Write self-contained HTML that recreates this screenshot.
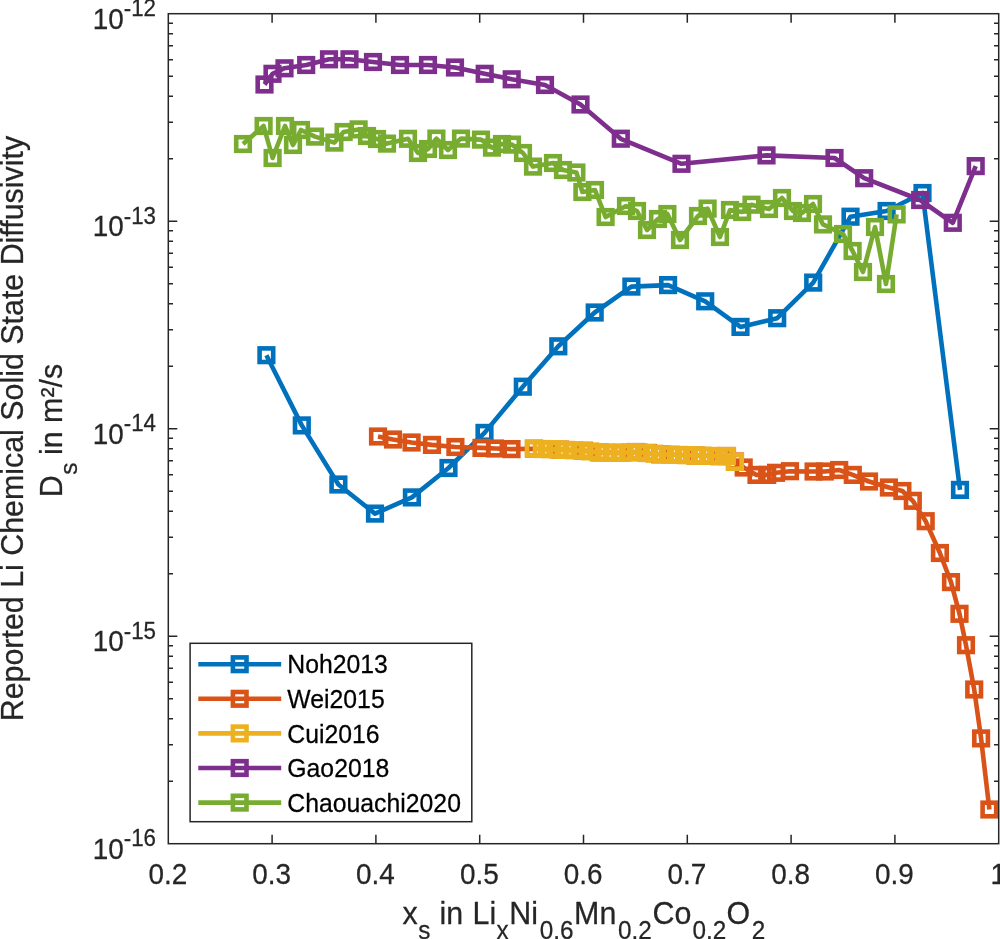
<!DOCTYPE html>
<html lang="en"><head><meta charset="utf-8"><title>Reported Li Chemical Solid State Diffusivity</title>
<style>html,body{margin:0;padding:0;background:#fff;overflow:hidden}svg{display:block}text{font-family:"Liberation Sans",Arial,Helvetica,sans-serif}</style></head><body>
<svg width="1000" height="939" viewBox="0 0 1000 939">
<rect width="1000" height="939" fill="#fff"/>
<g fill="none" stroke="#0072BD"><polyline stroke-width="4.6" stroke-linejoin="round" points="266.4,355.2 301.8,425.4 338.4,484.5 375.0,513.6 411.9,497.4 448.5,468.0 484.5,432.9 522.8,386.7 558.3,346.3 594.7,312.5 631.4,286.6 668.1,285.1 705.2,301.3 740.5,326.9 777.2,318.2 813.2,282.6 850.5,216.7 886.6,211.0 922.5,193.0 960.0,489.9"/><g stroke-width="4.6"><rect x="259.6" y="348.4" width="13.6" height="13.6"/><rect x="295.0" y="418.6" width="13.6" height="13.6"/><rect x="331.6" y="477.7" width="13.6" height="13.6"/><rect x="368.2" y="506.8" width="13.6" height="13.6"/><rect x="405.1" y="490.6" width="13.6" height="13.6"/><rect x="441.7" y="461.2" width="13.6" height="13.6"/><rect x="477.7" y="426.1" width="13.6" height="13.6"/><rect x="516.0" y="379.9" width="13.6" height="13.6"/><rect x="551.5" y="339.5" width="13.6" height="13.6"/><rect x="587.9" y="305.7" width="13.6" height="13.6"/><rect x="624.6" y="279.8" width="13.6" height="13.6"/><rect x="661.3" y="278.3" width="13.6" height="13.6"/><rect x="698.4" y="294.5" width="13.6" height="13.6"/><rect x="733.7" y="320.1" width="13.6" height="13.6"/><rect x="770.4" y="311.4" width="13.6" height="13.6"/><rect x="806.4" y="275.8" width="13.6" height="13.6"/><rect x="843.7" y="209.9" width="13.6" height="13.6"/><rect x="879.8" y="204.2" width="13.6" height="13.6"/><rect x="915.7" y="186.2" width="13.6" height="13.6"/><rect x="953.2" y="483.1" width="13.6" height="13.6"/></g></g>
<g fill="none" stroke="#D95319"><polyline stroke-width="4.6" stroke-linejoin="round" points="378.0,436.5 393.0,439.5 411.6,442.5 432.0,444.9 455.4,447.0 481.5,447.9 495.0,448.5 511.5,449.1 534.0,448.7 560.0,449.6 584.0,450.8 600.0,452.4 620.0,452.9 636.0,452.0 648.0,453.0 660.0,454.3 696.0,455.5 720.0,456.1 727.0,456.0 735.0,461.5 743.7,467.5 756.5,474.9 767.2,474.9 776.0,472.8 790.0,471.2 813.6,471.5 824.8,471.5 839.2,470.0 852.8,474.9 869.0,481.5 888.9,487.5 902.4,491.0 912.8,500.8 925.7,521.2 939.9,553.0 951.0,582.1 959.5,613.8 966.0,645.2 974.2,689.5 981.1,738.4 989.4,809.5"/><g stroke-width="4.6"><rect x="371.2" y="429.7" width="13.6" height="13.6"/><rect x="386.2" y="432.7" width="13.6" height="13.6"/><rect x="404.8" y="435.7" width="13.6" height="13.6"/><rect x="425.2" y="438.1" width="13.6" height="13.6"/><rect x="448.6" y="440.2" width="13.6" height="13.6"/><rect x="474.7" y="441.1" width="13.6" height="13.6"/><rect x="488.2" y="441.7" width="13.6" height="13.6"/><rect x="504.7" y="442.3" width="13.6" height="13.6"/><rect x="527.2" y="441.9" width="13.6" height="13.6"/><rect x="553.2" y="442.8" width="13.6" height="13.6"/><rect x="577.2" y="444.0" width="13.6" height="13.6"/><rect x="593.2" y="445.6" width="13.6" height="13.6"/><rect x="613.2" y="446.1" width="13.6" height="13.6"/><rect x="629.2" y="445.2" width="13.6" height="13.6"/><rect x="641.2" y="446.2" width="13.6" height="13.6"/><rect x="653.2" y="447.5" width="13.6" height="13.6"/><rect x="689.2" y="448.7" width="13.6" height="13.6"/><rect x="713.2" y="449.3" width="13.6" height="13.6"/><rect x="720.2" y="449.2" width="13.6" height="13.6"/><rect x="728.2" y="454.7" width="13.6" height="13.6"/><rect x="736.9" y="460.7" width="13.6" height="13.6"/><rect x="749.7" y="468.1" width="13.6" height="13.6"/><rect x="760.4" y="468.1" width="13.6" height="13.6"/><rect x="769.2" y="466.0" width="13.6" height="13.6"/><rect x="783.2" y="464.4" width="13.6" height="13.6"/><rect x="806.8" y="464.7" width="13.6" height="13.6"/><rect x="818.0" y="464.7" width="13.6" height="13.6"/><rect x="832.4" y="463.2" width="13.6" height="13.6"/><rect x="846.0" y="468.1" width="13.6" height="13.6"/><rect x="862.2" y="474.7" width="13.6" height="13.6"/><rect x="882.1" y="480.7" width="13.6" height="13.6"/><rect x="895.6" y="484.2" width="13.6" height="13.6"/><rect x="906.0" y="494.0" width="13.6" height="13.6"/><rect x="918.9" y="514.4" width="13.6" height="13.6"/><rect x="933.1" y="546.2" width="13.6" height="13.6"/><rect x="944.2" y="575.3" width="13.6" height="13.6"/><rect x="952.7" y="607.0" width="13.6" height="13.6"/><rect x="959.2" y="638.4" width="13.6" height="13.6"/><rect x="967.4" y="682.7" width="13.6" height="13.6"/><rect x="974.3" y="731.6" width="13.6" height="13.6"/><rect x="982.6" y="802.7" width="13.6" height="13.6"/></g></g>
<g fill="none" stroke="#EDB120"><polyline stroke-width="4.6" stroke-linejoin="round" points="533.8,448.7 541.8,449.0 549.9,449.2 557.9,449.5 566.0,449.9 574.0,450.3 582.0,450.7 590.1,451.4 598.1,452.2 606.2,452.6 614.2,452.8 622.2,452.8 630.3,452.3 638.3,452.2 646.4,452.9 654.4,453.7 662.4,454.4 670.5,454.6 678.5,454.9 686.6,455.2 694.6,455.5 702.6,455.7 710.7,455.9 718.7,456.1 726.8,456.0 734.9,461.9"/><g stroke-width="4.6"><rect x="527.0" y="441.9" width="13.6" height="13.6"/><rect x="535.0" y="442.2" width="13.6" height="13.6"/><rect x="543.1" y="442.4" width="13.6" height="13.6"/><rect x="551.1" y="442.7" width="13.6" height="13.6"/><rect x="559.2" y="443.1" width="13.6" height="13.6"/><rect x="567.2" y="443.5" width="13.6" height="13.6"/><rect x="575.2" y="443.9" width="13.6" height="13.6"/><rect x="583.3" y="444.6" width="13.6" height="13.6"/><rect x="591.3" y="445.4" width="13.6" height="13.6"/><rect x="599.4" y="445.8" width="13.6" height="13.6"/><rect x="607.4" y="446.0" width="13.6" height="13.6"/><rect x="615.4" y="446.0" width="13.6" height="13.6"/><rect x="623.5" y="445.5" width="13.6" height="13.6"/><rect x="631.5" y="445.4" width="13.6" height="13.6"/><rect x="639.6" y="446.1" width="13.6" height="13.6"/><rect x="647.6" y="446.9" width="13.6" height="13.6"/><rect x="655.6" y="447.6" width="13.6" height="13.6"/><rect x="663.7" y="447.8" width="13.6" height="13.6"/><rect x="671.7" y="448.1" width="13.6" height="13.6"/><rect x="679.8" y="448.4" width="13.6" height="13.6"/><rect x="687.8" y="448.7" width="13.6" height="13.6"/><rect x="695.8" y="448.9" width="13.6" height="13.6"/><rect x="703.9" y="449.1" width="13.6" height="13.6"/><rect x="711.9" y="449.3" width="13.6" height="13.6"/><rect x="720.0" y="449.2" width="13.6" height="13.6"/><rect x="728.1" y="455.1" width="13.6" height="13.6"/></g></g>
<g fill="none" stroke="#7E2F8E"><polyline stroke-width="4.6" stroke-linejoin="round" points="264.5,84.5 272.5,73.8 284.5,68.2 306.2,65.0 329.0,59.2 349.5,59.2 373.0,62.0 400.0,65.0 428.0,65.0 455.0,67.5 484.7,73.8 511.8,79.2 545.0,85.0 580.5,104.5 620.8,138.8 681.5,163.8 766.5,155.4 834.5,158.0 864.2,178.2 920.2,200.0 952.8,222.8 975.7,166.2"/><g stroke-width="4.6"><rect x="257.7" y="77.7" width="13.6" height="13.6"/><rect x="265.7" y="67.0" width="13.6" height="13.6"/><rect x="277.7" y="61.5" width="13.6" height="13.6"/><rect x="299.4" y="58.2" width="13.6" height="13.6"/><rect x="322.2" y="52.5" width="13.6" height="13.6"/><rect x="342.7" y="52.5" width="13.6" height="13.6"/><rect x="366.2" y="55.2" width="13.6" height="13.6"/><rect x="393.2" y="58.2" width="13.6" height="13.6"/><rect x="421.2" y="58.2" width="13.6" height="13.6"/><rect x="448.2" y="60.7" width="13.6" height="13.6"/><rect x="477.9" y="67.0" width="13.6" height="13.6"/><rect x="504.9" y="72.5" width="13.6" height="13.6"/><rect x="538.2" y="78.2" width="13.6" height="13.6"/><rect x="573.7" y="97.7" width="13.6" height="13.6"/><rect x="614.0" y="131.9" width="13.6" height="13.6"/><rect x="674.7" y="157.0" width="13.6" height="13.6"/><rect x="759.7" y="148.6" width="13.6" height="13.6"/><rect x="827.7" y="151.2" width="13.6" height="13.6"/><rect x="857.4" y="171.4" width="13.6" height="13.6"/><rect x="913.4" y="193.2" width="13.6" height="13.6"/><rect x="946.0" y="216.0" width="13.6" height="13.6"/><rect x="968.9" y="159.3" width="13.6" height="13.6"/></g></g>
<g fill="none" stroke="#77AC30"><polyline stroke-width="4.6" stroke-linejoin="round" points="243.0,144.0 263.6,126.0 272.6,158.0 285.0,126.0 293.0,145.0 301.0,130.0 315.0,136.6 334.4,142.6 343.6,132.0 358.6,129.4 367.0,136.0 377.0,139.0 387.0,143.6 408.0,138.8 418.0,153.0 428.0,149.0 436.4,138.6 448.0,150.0 461.0,138.6 481.0,139.6 492.0,147.6 502.0,144.0 512.0,144.6 523.0,153.0 533.0,166.6 553.0,163.0 563.0,170.0 576.4,172.5 582.4,192.0 595.0,190.0 605.6,217.0 626.0,206.0 637.0,211.0 647.0,230.0 658.0,219.0 667.4,214.0 680.0,240.0 698.0,216.0 707.6,208.6 720.0,237.0 730.0,210.0 742.2,212.0 751.5,204.7 769.0,209.0 782.0,198.0 793.0,211.0 802.0,213.0 813.0,204.0 823.0,224.4 843.0,234.0 852.6,251.0 863.0,272.0 875.0,227.0 886.0,284.0 896.6,214.4"/><g stroke-width="4.6"><rect x="236.2" y="137.2" width="13.6" height="13.6"/><rect x="256.8" y="119.2" width="13.6" height="13.6"/><rect x="265.8" y="151.2" width="13.6" height="13.6"/><rect x="278.2" y="119.2" width="13.6" height="13.6"/><rect x="286.2" y="138.2" width="13.6" height="13.6"/><rect x="294.2" y="123.2" width="13.6" height="13.6"/><rect x="308.2" y="129.8" width="13.6" height="13.6"/><rect x="327.6" y="135.8" width="13.6" height="13.6"/><rect x="336.8" y="125.2" width="13.6" height="13.6"/><rect x="351.8" y="122.6" width="13.6" height="13.6"/><rect x="360.2" y="129.2" width="13.6" height="13.6"/><rect x="370.2" y="132.2" width="13.6" height="13.6"/><rect x="380.2" y="136.8" width="13.6" height="13.6"/><rect x="401.2" y="132.0" width="13.6" height="13.6"/><rect x="411.2" y="146.2" width="13.6" height="13.6"/><rect x="421.2" y="142.2" width="13.6" height="13.6"/><rect x="429.6" y="131.8" width="13.6" height="13.6"/><rect x="441.2" y="143.2" width="13.6" height="13.6"/><rect x="454.2" y="131.8" width="13.6" height="13.6"/><rect x="474.2" y="132.8" width="13.6" height="13.6"/><rect x="485.2" y="140.8" width="13.6" height="13.6"/><rect x="495.2" y="137.2" width="13.6" height="13.6"/><rect x="505.2" y="137.8" width="13.6" height="13.6"/><rect x="516.2" y="146.2" width="13.6" height="13.6"/><rect x="526.2" y="159.8" width="13.6" height="13.6"/><rect x="546.2" y="156.2" width="13.6" height="13.6"/><rect x="556.2" y="163.2" width="13.6" height="13.6"/><rect x="569.6" y="165.7" width="13.6" height="13.6"/><rect x="575.6" y="185.2" width="13.6" height="13.6"/><rect x="588.2" y="183.2" width="13.6" height="13.6"/><rect x="598.8" y="210.2" width="13.6" height="13.6"/><rect x="619.2" y="199.2" width="13.6" height="13.6"/><rect x="630.2" y="204.2" width="13.6" height="13.6"/><rect x="640.2" y="223.2" width="13.6" height="13.6"/><rect x="651.2" y="212.2" width="13.6" height="13.6"/><rect x="660.6" y="207.2" width="13.6" height="13.6"/><rect x="673.2" y="233.2" width="13.6" height="13.6"/><rect x="691.2" y="209.2" width="13.6" height="13.6"/><rect x="700.8" y="201.8" width="13.6" height="13.6"/><rect x="713.2" y="230.2" width="13.6" height="13.6"/><rect x="723.2" y="203.2" width="13.6" height="13.6"/><rect x="735.4" y="205.2" width="13.6" height="13.6"/><rect x="744.7" y="197.9" width="13.6" height="13.6"/><rect x="762.2" y="202.2" width="13.6" height="13.6"/><rect x="775.2" y="191.2" width="13.6" height="13.6"/><rect x="786.2" y="204.2" width="13.6" height="13.6"/><rect x="795.2" y="206.2" width="13.6" height="13.6"/><rect x="806.2" y="197.2" width="13.6" height="13.6"/><rect x="816.2" y="217.6" width="13.6" height="13.6"/><rect x="836.2" y="227.2" width="13.6" height="13.6"/><rect x="845.8" y="244.2" width="13.6" height="13.6"/><rect x="856.2" y="265.2" width="13.6" height="13.6"/><rect x="868.2" y="220.2" width="13.6" height="13.6"/><rect x="879.2" y="277.2" width="13.6" height="13.6"/><rect x="889.8" y="207.6" width="13.6" height="13.6"/></g></g>
<g stroke="#262626" stroke-width="1.5" fill="none"><rect x="168.3" y="13.7" width="830.4000000000001" height="830.0"/><path d="M272.10 843.7v-9.0M272.10 13.7v9.0"/><path d="M375.90 843.7v-9.0M375.90 13.7v9.0"/><path d="M479.70 843.7v-9.0M479.70 13.7v9.0"/><path d="M583.50 843.7v-9.0M583.50 13.7v9.0"/><path d="M687.30 843.7v-9.0M687.30 13.7v9.0"/><path d="M791.10 843.7v-9.0M791.10 13.7v9.0"/><path d="M894.90 843.7v-9.0M894.90 13.7v9.0"/><path d="M168.3 781.24h4.7M998.7 781.24h-4.7"/><path d="M168.3 744.70h4.7M998.7 744.70h-4.7"/><path d="M168.3 718.77h4.7M998.7 718.77h-4.7"/><path d="M168.3 698.66h4.7M998.7 698.66h-4.7"/><path d="M168.3 682.23h4.7M998.7 682.23h-4.7"/><path d="M168.3 668.34h4.7M998.7 668.34h-4.7"/><path d="M168.3 656.31h4.7M998.7 656.31h-4.7"/><path d="M168.3 645.69h4.7M998.7 645.69h-4.7"/><path d="M168.3 636.20h9.0M998.7 636.20h-9.0"/><path d="M168.3 573.74h4.7M998.7 573.74h-4.7"/><path d="M168.3 537.20h4.7M998.7 537.20h-4.7"/><path d="M168.3 511.27h4.7M998.7 511.27h-4.7"/><path d="M168.3 491.16h4.7M998.7 491.16h-4.7"/><path d="M168.3 474.73h4.7M998.7 474.73h-4.7"/><path d="M168.3 460.84h4.7M998.7 460.84h-4.7"/><path d="M168.3 448.81h4.7M998.7 448.81h-4.7"/><path d="M168.3 438.19h4.7M998.7 438.19h-4.7"/><path d="M168.3 428.70h9.0M998.7 428.70h-9.0"/><path d="M168.3 366.24h4.7M998.7 366.24h-4.7"/><path d="M168.3 329.70h4.7M998.7 329.70h-4.7"/><path d="M168.3 303.77h4.7M998.7 303.77h-4.7"/><path d="M168.3 283.66h4.7M998.7 283.66h-4.7"/><path d="M168.3 267.23h4.7M998.7 267.23h-4.7"/><path d="M168.3 253.34h4.7M998.7 253.34h-4.7"/><path d="M168.3 241.31h4.7M998.7 241.31h-4.7"/><path d="M168.3 230.69h4.7M998.7 230.69h-4.7"/><path d="M168.3 221.20h9.0M998.7 221.20h-9.0"/><path d="M168.3 158.74h4.7M998.7 158.74h-4.7"/><path d="M168.3 122.20h4.7M998.7 122.20h-4.7"/><path d="M168.3 96.27h4.7M998.7 96.27h-4.7"/><path d="M168.3 76.16h4.7M998.7 76.16h-4.7"/><path d="M168.3 59.73h4.7M998.7 59.73h-4.7"/><path d="M168.3 45.84h4.7M998.7 45.84h-4.7"/><path d="M168.3 33.81h4.7M998.7 33.81h-4.7"/><path d="M168.3 23.19h4.7M998.7 23.19h-4.7"/></g>
<g><text transform="translate(167.9 883.9) scale(1 1.04)" font-size="27.9" text-anchor="middle" fill="#262626" stroke="#262626" stroke-width="0.25">0.2</text><text transform="translate(271.7 883.9) scale(1 1.04)" font-size="27.9" text-anchor="middle" fill="#262626" stroke="#262626" stroke-width="0.25">0.3</text><text transform="translate(375.5 883.9) scale(1 1.04)" font-size="27.9" text-anchor="middle" fill="#262626" stroke="#262626" stroke-width="0.25">0.4</text><text transform="translate(479.3 883.9) scale(1 1.04)" font-size="27.9" text-anchor="middle" fill="#262626" stroke="#262626" stroke-width="0.25">0.5</text><text transform="translate(583.1 883.9) scale(1 1.04)" font-size="27.9" text-anchor="middle" fill="#262626" stroke="#262626" stroke-width="0.25">0.6</text><text transform="translate(686.9 883.9) scale(1 1.04)" font-size="27.9" text-anchor="middle" fill="#262626" stroke="#262626" stroke-width="0.25">0.7</text><text transform="translate(790.7 883.9) scale(1 1.04)" font-size="27.9" text-anchor="middle" fill="#262626" stroke="#262626" stroke-width="0.25">0.8</text><text transform="translate(894.5 883.9) scale(1 1.04)" font-size="27.9" text-anchor="middle" fill="#262626" stroke="#262626" stroke-width="0.25">0.9</text><text transform="translate(998.3 883.9) scale(1 1.04)" font-size="27.9" text-anchor="middle" fill="#262626" stroke="#262626" stroke-width="0.25">1</text><text transform="translate(156.0 858.6) scale(1 1.04)" font-size="27.9" text-anchor="end" fill="#262626" stroke="#262626" stroke-width="0.25">10<tspan font-size="22.3" dy="-12.0">-16</tspan></text><text transform="translate(156.0 651.1) scale(1 1.04)" font-size="27.9" text-anchor="end" fill="#262626" stroke="#262626" stroke-width="0.25">10<tspan font-size="22.3" dy="-12.0">-15</tspan></text><text transform="translate(156.0 443.6) scale(1 1.04)" font-size="27.9" text-anchor="end" fill="#262626" stroke="#262626" stroke-width="0.25">10<tspan font-size="22.3" dy="-12.0">-14</tspan></text><text transform="translate(156.0 236.1) scale(1 1.04)" font-size="27.9" text-anchor="end" fill="#262626" stroke="#262626" stroke-width="0.25">10<tspan font-size="22.3" dy="-12.0">-13</tspan></text><text transform="translate(156.0 28.6) scale(1 1.04)" font-size="27.9" text-anchor="end" fill="#262626" stroke="#262626" stroke-width="0.25">10<tspan font-size="22.3" dy="-12.0">-12</tspan></text></g>
<text transform="translate(0.0 923.6) scale(1 1.03)" font-size="30.4" text-anchor="start" fill="#262626" stroke="#262626" stroke-width="0.25"><tspan x="402.6">x</tspan><tspan x="418.2" font-size="24.3" dy="14.71">s</tspan><tspan x="439.6" dy="-14.71">in</tspan><tspan x="472.5">Li</tspan><tspan x="496.6" font-size="24.3" dy="14.71">x</tspan><tspan x="509.3" dy="-14.71">Ni</tspan><tspan x="539.8" font-size="24.3" dy="14.71">0.6</tspan><tspan x="574.1" dy="-14.71">Mn</tspan><tspan x="618.0" font-size="24.3" dy="14.71">0.2</tspan><tspan x="652.5" dy="-14.71">Co</tspan><tspan x="692.6" font-size="24.3" dy="14.71">0.2</tspan><tspan x="726.5" dy="-14.71">O</tspan><tspan x="751.8" font-size="24.3" dy="14.71">2</tspan></text>
<text transform="translate(23.3 0.0) rotate(-90) scale(1 1.02)" font-size="30.4" text-anchor="start" fill="#262626" stroke="#262626" stroke-width="0.25"><tspan x="-721.3">Reported Li Chemical Solid State Diffusivity</tspan></text>
<text transform="translate(62.0 0.0) rotate(-90) scale(1 1.02)" font-size="30.4" text-anchor="start" fill="#262626" stroke="#262626" stroke-width="0.25"><tspan x="-497.2">D</tspan><tspan x="-474.7" font-size="24.3" dy="14.71">s</tspan><tspan x="-455.0" dy="-14.71">in m²/s</tspan></text>
<g><rect x="190.1" y="643.3" width="281.7" height="178.4" fill="#fff" stroke="#262626" stroke-width="1.5"/><path d="M198.3 664.2H281.2" stroke="#0072BD" stroke-width="4.6" fill="none"/><rect x="232.9" y="657.4" width="13.6" height="13.6" fill="none" stroke="#0072BD" stroke-width="4.6"/><text transform="translate(287.3 673.3) scale(1 1.035)" font-size="24.8" text-anchor="start" fill="#000" stroke="#000" stroke-width="0.25">Noh2013</text><path d="M198.3 698.8H281.2" stroke="#D95319" stroke-width="4.6" fill="none"/><rect x="232.9" y="692.0" width="13.6" height="13.6" fill="none" stroke="#D95319" stroke-width="4.6"/><text transform="translate(287.3 707.9) scale(1 1.035)" font-size="24.8" text-anchor="start" fill="#000" stroke="#000" stroke-width="0.25">Wei2015</text><path d="M198.3 733.4H281.2" stroke="#EDB120" stroke-width="4.6" fill="none"/><rect x="232.9" y="726.6" width="13.6" height="13.6" fill="none" stroke="#EDB120" stroke-width="4.6"/><text transform="translate(287.3 742.5) scale(1 1.035)" font-size="24.8" text-anchor="start" fill="#000" stroke="#000" stroke-width="0.25">Cui2016</text><path d="M198.3 768.0H281.2" stroke="#7E2F8E" stroke-width="4.6" fill="none"/><rect x="232.9" y="761.2" width="13.6" height="13.6" fill="none" stroke="#7E2F8E" stroke-width="4.6"/><text transform="translate(287.3 777.1) scale(1 1.035)" font-size="24.8" text-anchor="start" fill="#000" stroke="#000" stroke-width="0.25">Gao2018</text><path d="M198.3 802.6H281.2" stroke="#77AC30" stroke-width="4.6" fill="none"/><rect x="232.9" y="795.8" width="13.6" height="13.6" fill="none" stroke="#77AC30" stroke-width="4.6"/><text transform="translate(287.3 811.7) scale(1 1.035)" font-size="24.8" text-anchor="start" fill="#000" stroke="#000" stroke-width="0.25">Chaouachi2020</text></g>
</svg></body></html>
